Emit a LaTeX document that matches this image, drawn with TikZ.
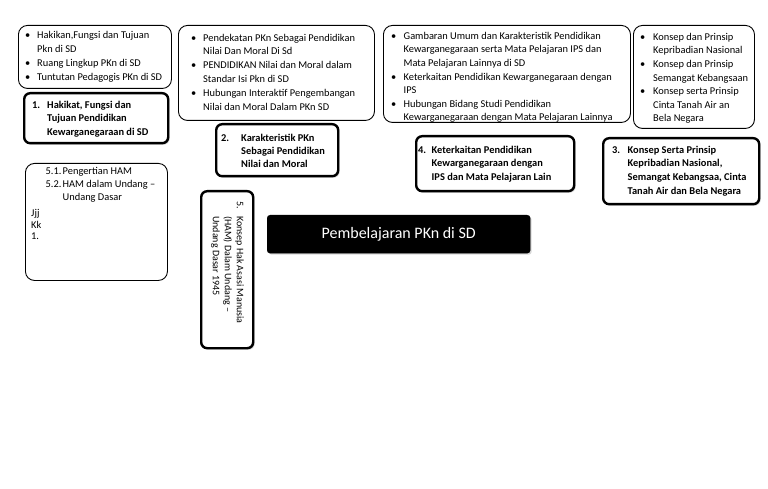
\documentclass[tikz,border=0pt]{standalone}
\usepackage{fontspec}
\setmainfont{Carlito}
\usetikzlibrary{shadows}
\newcommand\hlist[2]{\begin{tabular}{@{}p{#1}@{}l@{}}#2\end{tabular}}
\newcommand\bul{\textbullet}
\begin{document}
\begin{tikzpicture}[x=1pt,y=-1pt,
 thinbox/.style={draw, line width=0.9pt, rounded corners=9pt, anchor=north west, inner sep=0pt},
 thickbox/.style={draw, line width=2.4pt, rounded corners=6pt, fill=white, anchor=north west, inner sep=0pt,
   drop shadow={shadow xshift=1.5pt, shadow yshift=-1.5pt, fill=black!35}},
 txt/.style={anchor=north west, inner sep=0pt, align=left, font=\fontsize{10.4}{13.6}\selectfont},
 btxt/.style={anchor=north west, inner sep=0pt, align=left, font=\fontsize{10.4}{13.7}\selectfont\bfseries},
]
\useasboundingbox (0,0) rectangle (768,489);

% top list boxes
\node[thinbox, minimum width=153pt, minimum height=63pt] (la) at (18,25) {};
\node[txt, font=\fontsize{10.4}{13.9}\selectfont] (ta) at (25,28.4) {\hlist{12pt}{%
\bul & Hakikan,Fungsi dan Tujuan\\ & Pkn di SD\\
\bul & Ruang Lingkup PKn di SD\\
\bul & Tuntutan Pedagogis PKn di SD}};

\node[thinbox, minimum width=196pt, minimum height=95pt] (lb) at (178,25) {};
\node[txt, font=\fontsize{10.4}{13.8}\selectfont] (tb) at (191,31.3) {\hlist{12pt}{%
\bul & Pendekatan PKn Sebagai Pendidikan\\ & Nilai Dan Moral Di Sd\\
\bul & PENDIDIKAN Nilai dan Moral dalam\\ & Standar Isi Pkn di SD\\
\bul & Hubungan Interaktif Pengembangan\\ & Nilai dan Moral Dalam PKn SD}};

\node[thinbox, minimum width=247pt, minimum height=97pt] (lc) at (383,25) {};
\node[txt] (tc) at (391,29.5) {\hlist{12.5pt}{%
\bul & Gambaran Umum dan Karakteristik Pendidikan\\ & Kewarganegaraan serta Mata Pelajaran IPS dan\\ & Mata Pelajaran Lainnya di SD\\
\bul & Keterkaitan Pendidikan Kewarganegaraan dengan\\ & IPS\\
\bul & Hubungan Bidang Studi Pendidikan\\ & Kewarganegaraan dengan Mata Pelajaran Lainnya}};

\node[thinbox, minimum width=121pt, minimum height=103pt] (ld) at (633,25) {};
\node[txt] (td) at (640,30.5) {\hlist{13pt}{%
\bul & Konsep dan Prinsip\\ & Kepribadian Nasional\\
\bul & Konsep dan Prinsip\\ & Semangat Kebangsaan\\
\bul & Konsep serta Prinsip\\ & Cinta Tanah Air an\\ & Bela Negara}};

% numbered thick boxes
\node[thickbox, minimum width=144pt, minimum height=50pt] (b1) at (23,92) {};
\node[btxt] (t1) at (32,98.3) {\hlist{15pt}{%
1. & Hakikat, Fungsi dan\\ & Tujuan Pendidikan\\ & Kewarganegaraan di SD}};

\node[thickbox, minimum width=122pt, minimum height=52pt] (b2) at (215,123) {};
\node[btxt, font=\fontsize{10.4}{13.3}\selectfont\bfseries] (t2) at (221,131.7) {\hlist{20pt}{%
2. & Karakteristik PKn\\ & Sebagai Pendidikan\\ & Nilai dan Moral}};

\node[thickbox, minimum width=158pt, minimum height=55pt] (b4) at (415,135) {};
\node[btxt, font=\fontsize{10.4}{13.5}\selectfont\bfseries] (t4) at (418,143.5) {\hlist{13.5pt}{%
4. & Keterkaitan Pendidikan\\ & Kewarganegaraan dengan\\ & IPS dan Mata Pelajaran Lain}};

\node[thickbox, minimum width=156pt, minimum height=66pt] (b3) at (602,137) {};
\node[btxt] (t3) at (612,143.4) {\hlist{15.5pt}{%
3. & Konsep Serta Prinsip\\ & Kepribadian Nasional,\\ & Semangat Kebangsaa, Cinta\\ & Tanah Air dan Bela Negara}};

% box 5 list
\node[thinbox, minimum width=142pt, minimum height=117pt] (l5) at (25,163) {};
\node[txt, font=\fontsize{10.4}{13}\selectfont] (t5) at (45.5,164.9) {\hlist{17pt}{%
5.1. & Pengertian HAM\\
5.2. & HAM dalam Undang --\\ & Undang Dasar}};
\node[txt, font=\fontsize{10.4}{11.8}\selectfont] (t5b) at (31,207.8) {\hlist{0pt}{%
& Jjj\\ & Kk\\ & 1.}};

% vertical box 5
\node[thickbox, minimum width=52pt, minimum height=157pt] (b5) at (200,190) {};
\node[txt, rotate=-90, font=\fontsize{10}{12}\selectfont] (t5v) at (245.4,201) {\hlist{15pt}{%
5. & Konsep Hak Asasi Manusia\\ & (HAM) Dalam Undang --\\ & Undang Dasar 1945}};

% title
\node[anchor=north west, fill=black, draw=black, rounded corners=3pt, minimum width=263pt, minimum height=38pt,
  drop shadow={shadow xshift=1.5pt, shadow yshift=-1.5pt, fill=black!30},
  text=white, font=\fontsize{16}{18}\selectfont] (title) at (267,215) {Pembelajaran PKn di SD};
\end{tikzpicture}
\end{document}
